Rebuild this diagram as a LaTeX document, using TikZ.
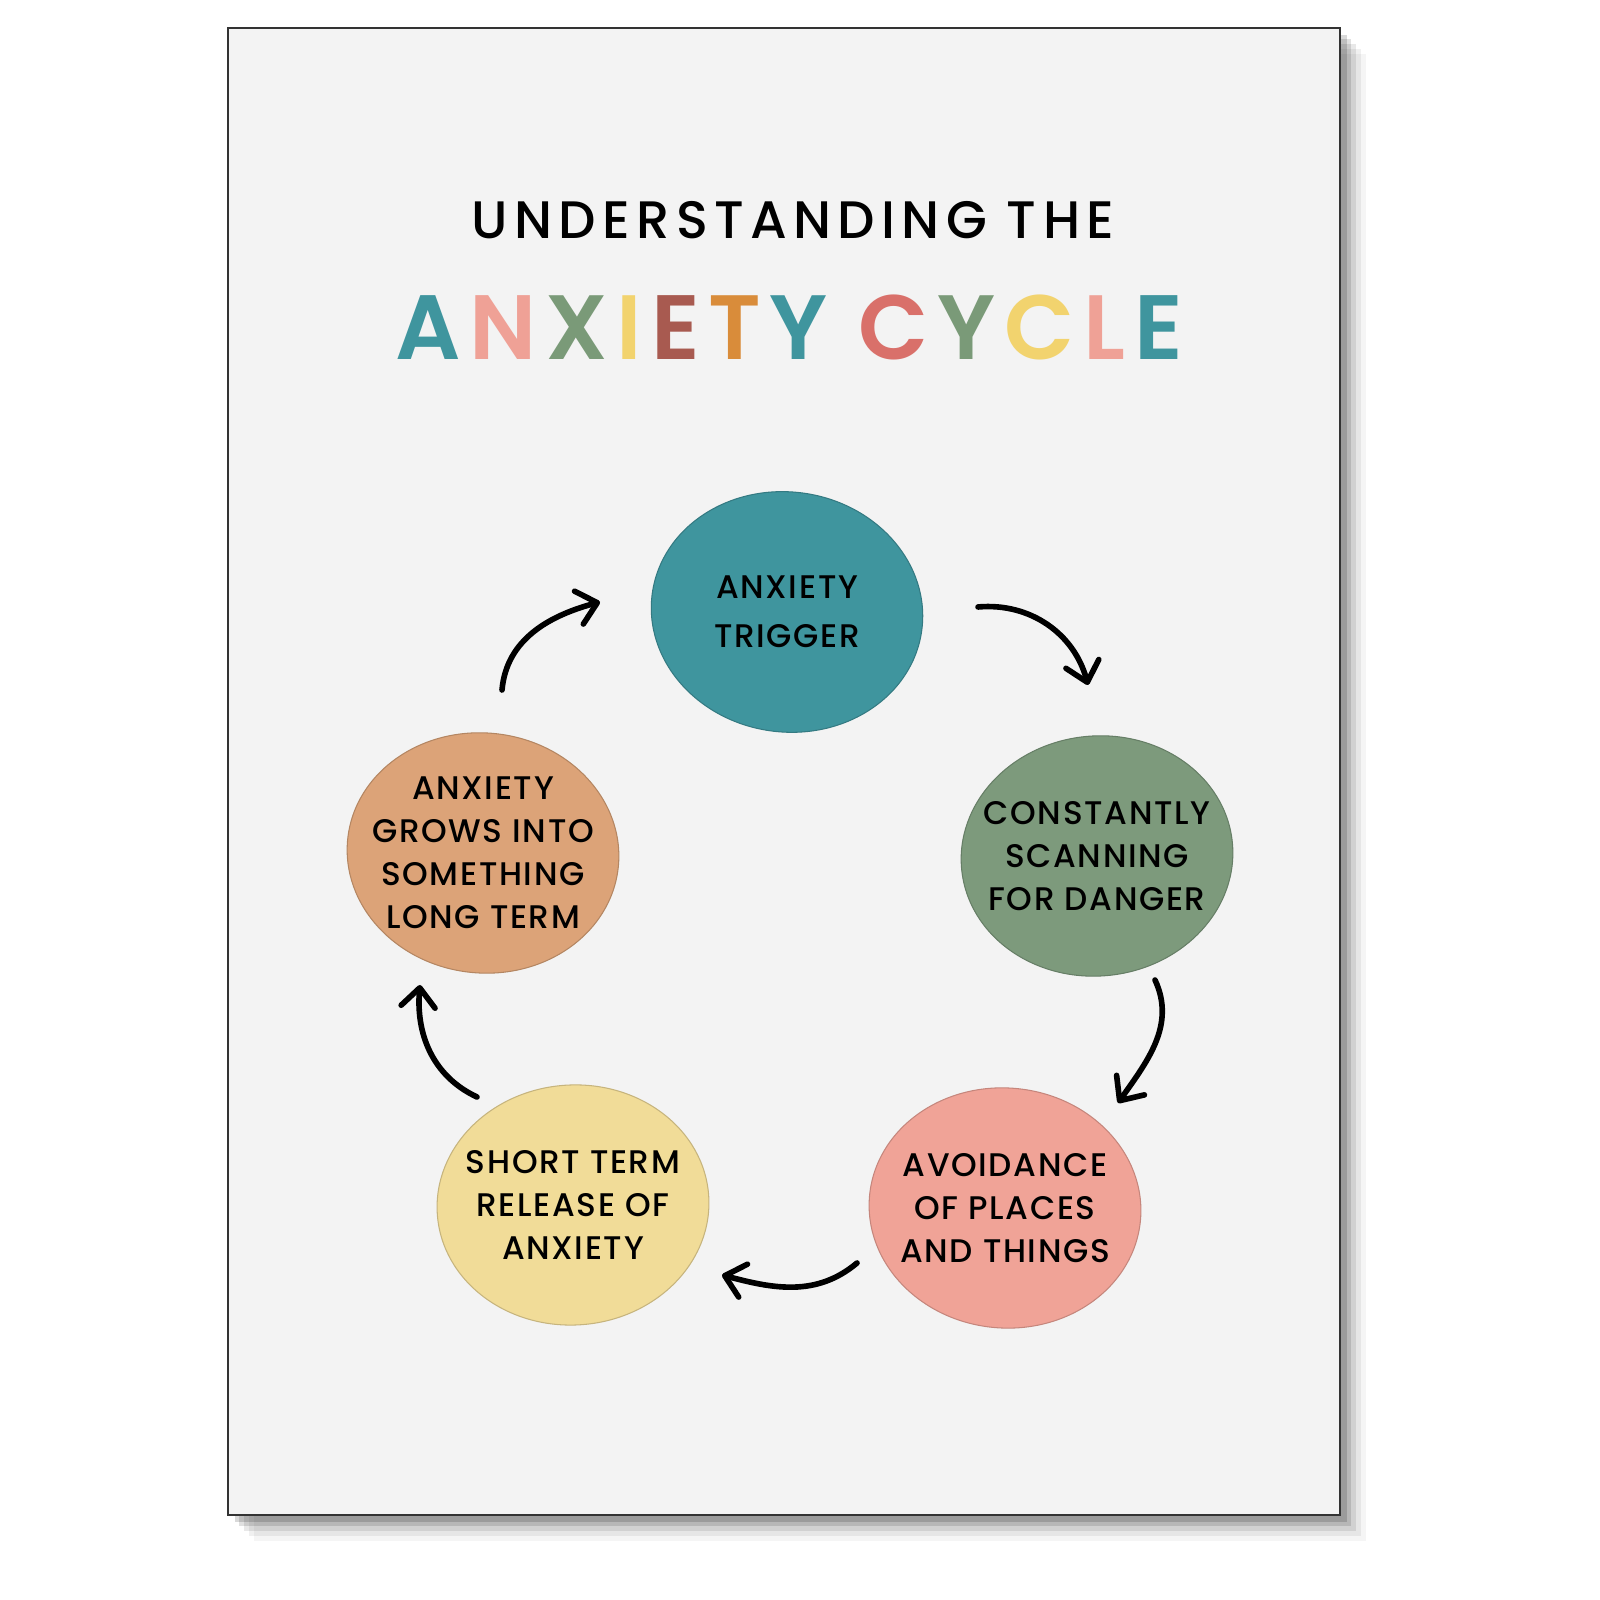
\documentclass[tikz,border=0pt]{standalone}
\usepackage{fontspec}
\setmainfont{Poppins}
\newfontfamily\headfont[LetterSpace=12]{Poppins Medium}
\newfontfamily\bigfont{Poppins SemiBold}
\newfontfamily\blobfont[LetterSpace=5]{Poppins Medium}
\usetikzlibrary{arrows.meta,backgrounds}

\definecolor{paper}{HTML}{F3F3F3}
\definecolor{teal}{HTML}{3F959E}
\definecolor{sage}{HTML}{7D9A7C}
\definecolor{salmon}{HTML}{F0A397}
\definecolor{butter}{HTML}{F1DC98}
\definecolor{apricot}{HTML}{DCA378}
\definecolor{rose}{HTML}{EFA196}
\definecolor{maize}{HTML}{F2D36E}
\definecolor{brick}{HTML}{A85A50}
\definecolor{ochre}{HTML}{D98C3A}
\definecolor{coral}{HTML}{D9706A}
\definecolor{moss}{HTML}{7A9A78}

% one coloured title letter
\newcommand{\tlet}[2]{\textcolor{#1}{#2}\kern 2.5pt}

\begin{document}
\begin{tikzpicture}
    \tikzstyle{blob}=[align=center, inner sep=0pt, font=\blobfont\fontsize{9.3}{12.2}\selectfont]
    \tikzstyle{cyc}=[line width=1.6pt, line cap=round, -{Straight Barb[length=1.9mm,width=3.4mm,round]}]

    \useasboundingbox (0,0) rectangle (16,16);

    % title
    \node (head) at (7.93, 13.80) {\headfont\fontsize{15}{18}\selectfont UNDERSTANDING THE};
    \node (title) at (7.89, 12.73) {\bigfont\fontsize{26}{30}\selectfont
      \tlet{teal}{A}\tlet{rose}{N}\tlet{moss}{X}\tlet{maize}{I}\tlet{brick}{E}\tlet{ochre}{T}\tlet{teal}{Y}%
      \ \tlet{coral}{C}\tlet{moss}{Y}\tlet{maize}{C}\tlet{rose}{L}\textcolor{teal}{E}};

    % the five stages
    \node[blob, font=\blobfont\fontsize{9.3}{14}\selectfont] (trigger) at (7.87, 9.88) {ANXIETY\\TRIGGER};
    \node[blob] (scan) at (10.97, 7.44) {CONSTANTLY\\SCANNING\\FOR DANGER};
    \node[blob] (avoid) at (10.05, 3.92) {AVOIDANCE\\OF PLACES\\AND THINGS};
    \node[blob] (release) at (5.73, 3.95) {SHORT TERM\\RELEASE OF\\ANXIETY};
    \node[blob] (grow) at (4.83, 7.47) {ANXIETY\\GROWS INTO\\SOMETHING\\LONG TERM};

    \begin{scope}[on background layer]
      \fill[white] (0,0) rectangle (16,16);
      % shadow and poster
      \foreach \s/\o in {0.26/0.04, 0.21/0.06, 0.16/0.09, 0.11/0.12, 0.07/0.15} {
        \fill[black, opacity=\o] (2.28+\s, 0.85-\s) rectangle (13.40+\s, 15.72-\s);
      }
      \fill[paper, draw=black!80, line width=0.4pt] (2.28,0.85) rectangle (13.40,15.72);
      % blobs
      \foreach \n/\c/\r in {trigger/teal/-8, scan/sage/6, avoid/salmon/-5, release/butter/4, grow/apricot/-6} {
        \filldraw[fill=\c, draw=\c!82!black, line width=0.3pt]
          (\n) ellipse [x radius=1.36, y radius=1.2, rotate=\r];
      }
    \end{scope}

    % arrow ends
    \coordinate (a1) at (9.78, 9.93);
    \coordinate (b1) at (10.88, 9.15);
    \coordinate (a2) at (11.55, 6.20);
    \coordinate (b2) at (11.18, 4.97);
    \coordinate (a3) at (8.57, 3.37);
    \coordinate (b3) at (7.22, 3.25);
    \coordinate (a4) at (4.77, 5.03);
    \coordinate (b4) at (4.20, 6.15);
    \coordinate (a5) at (5.02, 9.10);
    \coordinate (b5) at (6.00, 9.98);

    \draw[cyc] (a1) to[out=5, in=105] (b1);
    \draw[cyc] (a2) to[out=-65, in=55] (b2);
    \draw[cyc] (a3) to[out=-140, in=-15] (b3);
    \draw[cyc] (a4) to[out=155, in=-95] (b4);
    \draw[cyc] (a5) to[out=85, in=195] (b5);
  \end{tikzpicture}
\end{document}
